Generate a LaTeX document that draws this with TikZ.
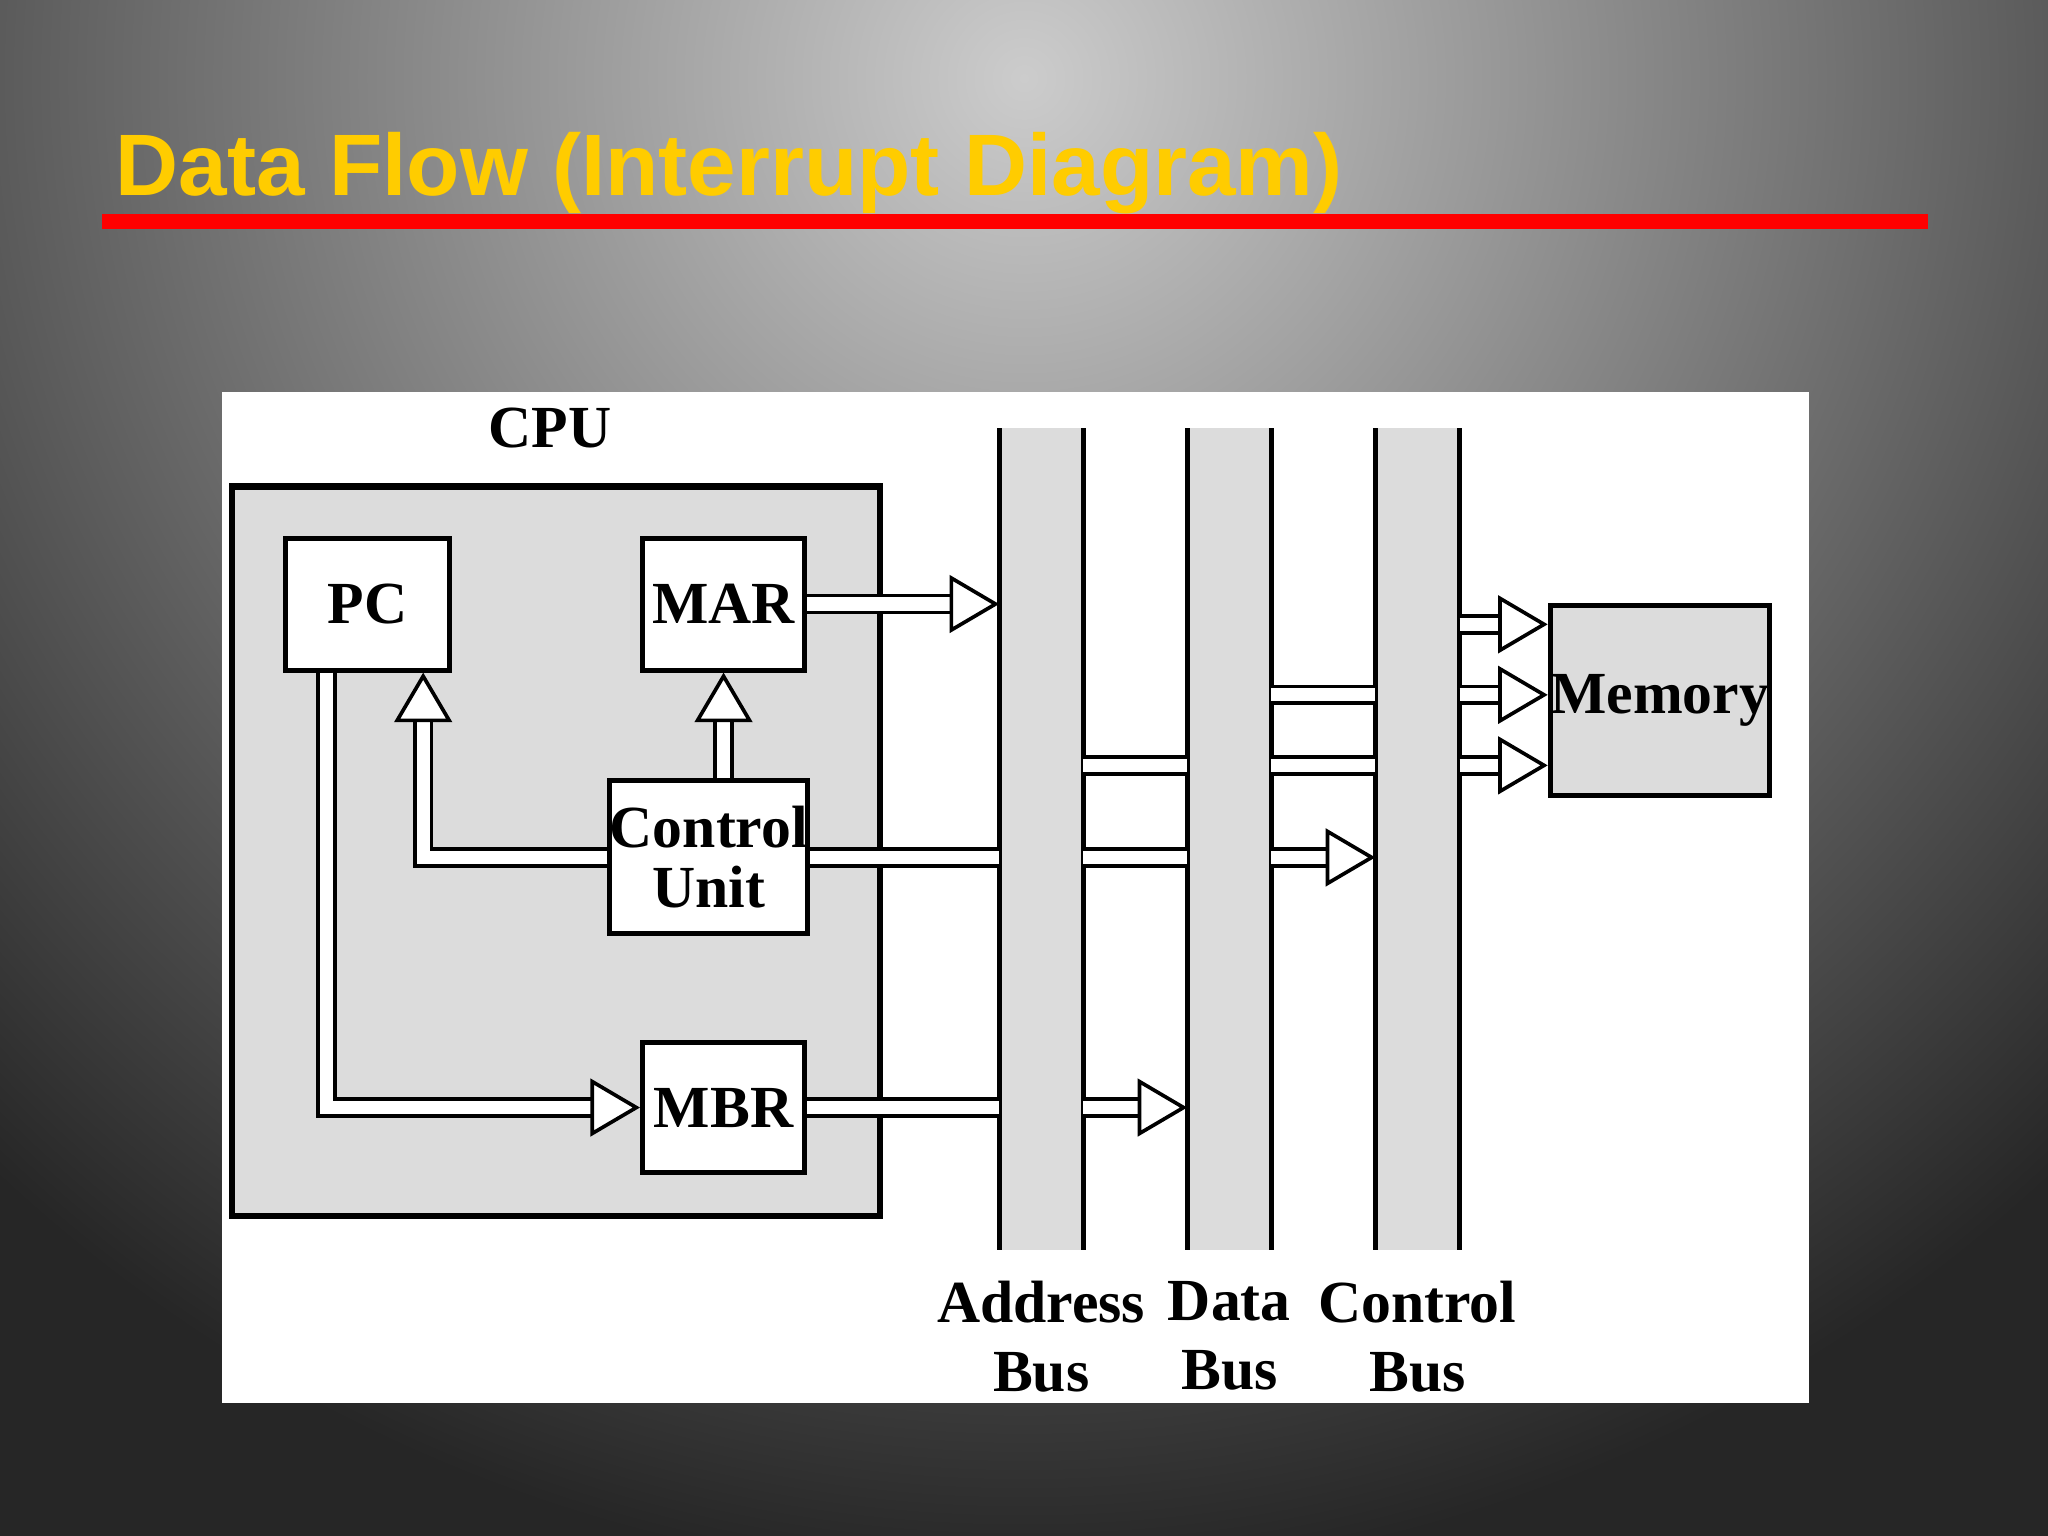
\documentclass[tikz,border=0pt]{standalone}
\usepackage{fontspec}
\setmainfont{Liberation Serif}
\newfontfamily\titlefont{Liberation Sans}
\usetikzlibrary{arrows.meta,positioning,calc}
\definecolor{boxgray}{HTML}{DCDCDC}
\definecolor{titleyellow}{HTML}{FFCC00}
\begin{document}
\begin{tikzpicture}[x=0.01cm,y=-0.01cm,
    box/.style={draw,line width=1.1pt,fill=white,font=\bfseries\fontsize{13}{15}\selectfont,inner sep=0pt},
    bus/.style={fill=boxgray,minimum width=0.63cm,minimum height=6.27cm,inner sep=0pt},
    busline/.style={line width=1.1pt},
    fat/.style={double=white,double distance=0.1cm,line width=0.8pt,
      -{Triangle[length=0.38cm,width=0.44cm,fill=white]}},
    fatline/.style={double=white,double distance=0.1cm,line width=0.8pt}]
\useasboundingbox (0,0) rectangle (1568,1176);
% backdrop
\begin{scope}
\clip (0,0) rectangle (1568,1176);
\fill[black!85] (0,0) rectangle (1568,1176);
\shade[inner color=black!20,outer color=black!85] (784,60) circle (1150);
\end{scope}
\node[anchor=base west,inner sep=0pt,text=titleyellow,font=\titlefont\bfseries\fontsize{19}{22}\selectfont] (title) at (88,150) {Data Flow (Interrupt Diagram)};
\fill[red] (78,164) rectangle (1476,175);
\fill[white] (170,300) rectangle (1385,1074);

% cpu and registers
\node[draw,line width=1.4pt,fill=boxgray,minimum width=4.96cm,minimum height=5.58cm,anchor=north west] (cpu) at (175,370) {};
\node[font=\bfseries\fontsize{13}{15}\selectfont] (cpulabel) at (421,328) {CPU};
\node[box,minimum width=1.25cm,minimum height=1.01cm,anchor=north west] (pc) at (217,410) {PC};
\node[box,minimum width=1.24cm,minimum height=1.01cm,anchor=north west] (mar) at (490,410) {MAR};
\node[box,minimum width=1.49cm,minimum height=1.17cm,anchor=north west,align=center] (cu) at (465,596) {Control\\[-2pt]Unit};
\node[box,minimum width=1.24cm,minimum height=1.00cm,anchor=north west] (mbr) at (490,796) {MBR};
\node[box,fill=boxgray,minimum width=1.66cm,minimum height=1.45cm,anchor=north west] (mem) at (1185,462) {Memory};

% bus coordinates
\node[bus,anchor=north west] (abus) at (765,328) {};
\node[bus,anchor=north west] (dbus) at (909,328) {};
\node[bus,anchor=north west] (cbus) at (1053,328) {};

% transfers
\draw[fat] (mar.east) -- (mar.east -| abus.west);
\draw[fat] ($(pc.south west)+(33,0)$) |- (mbr.west);
\draw[fat] (cu.west) -| ($(pc.south west)+(107,0)$);
\draw[fat] (cu.north -| mar.south) -- (mar.south);
\coordinate (m1) at (mem.west |- 0,478);
\coordinate (m2) at (mem.west |- 0,532);
\coordinate (m3) at (mem.west |- 0,586);

% buses
\foreach \b in {abus,dbus,cbus} {
  \fill[boxgray] (\b.north west) rectangle (\b.south east);
  \draw[busline] (\b.north west) -- (\b.south west);
  \draw[busline] (\b.north east) -- (\b.south east);
}
% transfers across the buses
\draw[fatline] (cu.east) -- (cu.east -| abus.west);
\draw[fatline] (cu.east -| abus.east) -- (cu.east -| dbus.west);
\draw[fat] (cu.east -| dbus.east) -- (cu.east -| cbus.west);
\draw[fatline] (mbr.east) -- (mbr.east -| abus.west);
\draw[fat] (mbr.east -| abus.east) -- (mbr.east -| dbus.west);
\draw[fat] (m1 -| cbus.east) -- (m1);
\draw[fatline] (m2 -| dbus.east) -- (m2 -| cbus.west);
\draw[fat] (m2 -| cbus.east) -- (m2);
\draw[fatline] (m3 -| abus.east) -- (m3 -| dbus.west);
\draw[fatline] (m3 -| dbus.east) -- (m3 -| cbus.west);
\draw[fat] (m3 -| cbus.east) -- (m3);

\node[font=\bfseries\fontsize{13}{15}\selectfont,align=center,below=0.12cm of abus] (alabel) {Address\\Bus};
\node[font=\bfseries\fontsize{13}{15}\selectfont,align=center,below=0.12cm of dbus] (dlabel) {Data\\Bus};
\node[font=\bfseries\fontsize{13}{15}\selectfont,align=center,below=0.12cm of cbus] (clabel) {Control\\Bus};
\end{tikzpicture}
\end{document}
